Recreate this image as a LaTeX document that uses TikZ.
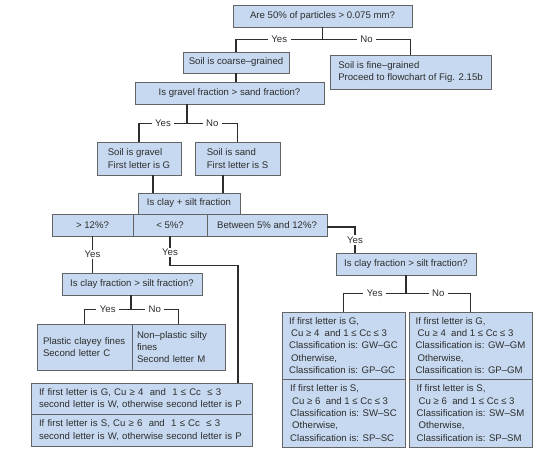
\documentclass[tikz,border=0pt]{standalone}
\usepackage{fontspec}
\setmainfont{Liberation Sans}
\usepackage{tikz}
\definecolor{boxfill}{RGB}{198,217,240}
\definecolor{boxline}{RGB}{100,100,100}
\definecolor{ink}{RGB}{45,45,45}

\begin{document}
\begin{tikzpicture}[x=1pt,y=-1pt]
\tikzstyle{box}=[draw=boxline,fill=boxfill,text=ink,line width=0.8pt,inner sep=0pt,align=left,font=\fontsize{9.6}{12.3}\selectfont];
\tikzstyle{conn}=[draw=ink,line width=1.6pt];
\tikzstyle{lbl}=[fill=white,text=ink,inner xsep=3.5pt,inner ysep=1.5pt,font=\fontsize{9.6}{12.3}\selectfont];
\useasboundingbox (0,0) rectangle (538,453);

\node[box,minimum width=179pt,minimum height=22pt] (q50) at (322.5,16) {Are 50\% of particles > 0.075 mm?};
\node[box,minimum width=106pt,minimum height=21pt] (coarse) at (236,62.5) {Soil is coarse--grained};
\node[box,minimum width=161pt,minimum height=34pt] (fine) at (410.5,72) {Soil is fine--grained\\Proceed to flowchart of Fig. 2.15b};
\node[box,minimum width=189pt,minimum height=22pt] (gravelq) at (229.5,93) {Is gravel fraction > sand fraction?};
\node[box,minimum width=84pt,minimum height=33pt] (gravel) at (139,158.5) {Soil is gravel\\First letter is G};
\node[box,minimum width=85pt,minimum height=33pt] (sand) at (237.5,158.5) {Soil is sand\\First letter is S};
\node[box,minimum width=102pt,minimum height=21pt] (clayslt) at (189,203.5) {Is clay + silt fraction};
\node[box,minimum width=81pt,minimum height=22pt] (gt12) at (92.5,225) {> 12\%?};
\node[box,minimum width=74pt,minimum height=22pt] (lt5) at (170,225) {< 5\%?};
\node[box,minimum width=120pt,minimum height=22pt] (betw) at (267,225) {Between 5\% and 12\%?};
\node[box,minimum width=140pt,minimum height=22pt] (clayL) at (132,284) {Is clay fraction > silt fraction?};
\node[box,text width=83pt,inner xsep=6pt,minimum height=46pt] (plastic) at (84.5,347) {Plastic clayey fines\\Second letter C\\[12.3pt]};
\node[box,text width=83pt,inner xsep=5pt,minimum height=46pt] (nonplastic) at (178.5,347) {Non--plastic silty\\fines\\Second letter M};
\node[box,text width=205pt,inner xsep=8pt,minimum height=31pt] (ruleG) at (141.5,398.5) {If first letter is G, Cu ≥ 4 \ and \ 1 ≤ Cc \ ≤ 3\\second letter is W, otherwise second letter is P};
\node[box,text width=205pt,inner xsep=8pt,minimum height=32pt] (ruleS) at (141.5,430) {If first letter is S, Cu ≥ 6 \ and \ 1 ≤ Cc \ ≤ 3\\second letter is W, otherwise second letter is P};
\node[box,minimum width=140pt,minimum height=22pt] (clayR) at (406,264) {Is clay fraction > silt fraction?};
\node[box,minimum width=123pt,minimum height=67pt] (gwgc) at (343.5,345.5) {If first letter is G,\\\hspace*{2pt}Cu ≥ 4 \ and 1 ≤ Cc ≤ 3\\Classification is: GW--GC\\\hspace*{2pt}Otherwise,\\Classification is: GP--GC};
\node[box,minimum width=123pt,minimum height=67pt] (gwgm) at (470.5,345.5) {If first letter is G,\\\hspace*{2pt}Cu ≥ 4 \ and 1 ≤ Cc ≤ 3\\Classification is: GW--GM\\\hspace*{2pt}Otherwise,\\Classification is: GP--GM};
\node[box,minimum width=123pt,minimum height=68pt] (swsc) at (343.5,413) {If first letter is S,\\\hspace*{2pt}Cu ≥ 6 \ and 1 ≤ Cc ≤ 3\\Classification is: SW--SC\\\hspace*{2pt}Otherwise,\\Classification is: SP--SC};
\node[box,minimum width=123pt,minimum height=68pt] (swsm) at (470.5,413) {If first letter is S,\\\hspace*{2pt}Cu ≥ 6 \ and 1 ≤ Cc ≤ 3\\Classification is: SW--SM\\\hspace*{2pt}Otherwise,\\Classification is: SP--SM};

\draw[conn] (q50.south) -- ++(0,12) coordinate (j1);
\draw[conn] (j1) -| node[lbl,pos=0.25] {Yes} (coarse.north);
\draw[conn] (j1) -| node[lbl,pos=0.25] {No} (fine.north);
\draw[conn] (coarse.south) -- (coarse.south |- gravelq.north);
\draw[conn] ([xshift=-42.5pt]gravelq.south) -- ++(0,19) coordinate (j2);
\draw[conn] (j2) -| node[lbl,pos=0.25] {Yes} (gravel.north);
\draw[conn] (j2) -| node[lbl,pos=0.25] {No} (sand.north);
\draw[conn] ([xshift=14pt]gravel.south) -- ([xshift=14pt]gravel.south |- clayslt.north);
\draw[conn] ([xshift=-14.5pt]sand.south) -- ([xshift=-14.5pt]sand.south |- clayslt.north);
\draw[conn] ([yshift=-2pt]betw.east) -| node[lbl,pos=0.75] {Yes} ([xshift=-51pt]clayR.north);
\draw[conn] (gt12.south) -- node[lbl] {Yes} (gt12.south |- clayL.north);
\draw[conn] (lt5.south) -- node[lbl,pos=0.55] {Yes} ++(0,29) -| ([xshift=96.5pt]ruleG.north);
\draw[conn] ([xshift=-1pt]clayL.south) -- ++(0,14) coordinate (j3);
\draw[conn] (j3) -| node[lbl,pos=0.25] {Yes} (plastic.north);
\draw[conn] (j3) -| node[lbl,pos=0.25] {No} (nonplastic.north);
\draw[conn] (clayR.south) -- ++(0,18) coordinate (j4);
\draw[conn] (j4) -| node[lbl,pos=0.25] {Yes} (gwgc.north);
\draw[conn] (j4) -| node[lbl,pos=0.25] {No} (gwgm.north);
\end{tikzpicture}
\end{document}
